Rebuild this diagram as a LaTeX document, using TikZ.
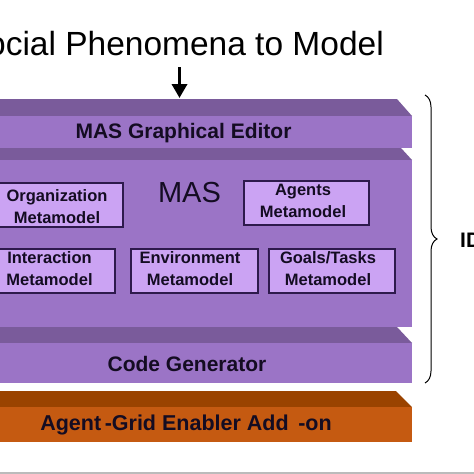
\documentclass[tikz,border=0pt]{standalone}
\usepackage{fontspec}
\setmainfont{Liberation Sans}
\usetikzlibrary{arrows.meta,decorations.pathreplacing}
\definecolor{slabtop}{HTML}{7A5B9B}
\definecolor{slabface}{HTML}{9B74C6}
\definecolor{boxfill}{HTML}{CBA3F3}
\definecolor{boxline}{HTML}{2E1A4C}
\definecolor{orgtop}{HTML}{9A4300}
\definecolor{orgface}{HTML}{C55A11}
\definecolor{inktext}{HTML}{140C22}
\definecolor{rulegray}{HTML}{BBBBBB}
\begin{document}
\begin{tikzpicture}[x=1pt,y=-1pt,
  mbox/.style={draw=boxline, line width=1.2pt, fill=boxfill, inner sep=0pt, minimum height=44pt},
  lbl/.style={font=\fontsize{16.5}{18}\selectfont\bfseries, text=inktext, anchor=base, inner sep=0pt},
  slablbl/.style={font=\fontsize{21}{24}\selectfont\bfseries, text=inktext, anchor=base, inner sep=0pt},
  toplayer/.style={fill=slabtop},
  facelayer/.style={fill=slabface}]
\useasboundingbox (0,0) rectangle (474,474);
\clip (0,0) rectangle (474,474);
\fill[white] (0,0) rectangle (474,474);
% title
\node[font=\fontsize{33.5}{38}\selectfont, anchor=base east, inner sep=0pt] (title) at (384,55) {Social Phenomena to Model};
\coordinate (arrowstart) at (179.5,67);
\coordinate (slabentry) at (179.5,98);
\draw[line width=3.5pt, -{Triangle[length=14pt,width=15pt]}] (arrowstart) -- (slabentry);
% slab 1
\fill[toplayer] (-5,99) -- (397,99) -- (412,116) -- (-5,116) -- cycle;
\fill[facelayer] (-5,116) rectangle (412,148);
% slab 2
\fill[toplayer] (-5,148) -- (401,148) -- (412,160) -- (-5,160) -- cycle;
\fill[facelayer] (-5,160) rectangle (412,327);
% slab 3
\fill[toplayer] (-5,327) -- (397,327) -- (412,343) -- (-5,343) -- cycle;
\fill[facelayer] (-5,343) rectangle (412,383);
% orange slab
\fill[orgtop] (-5,391) -- (396,391) -- (412,407) -- (-5,407) -- cycle;
\fill[orgface] (-5,407) rectangle (412,442);
% bottom rule
\fill[rulegray] (0,472) rectangle (474,474);
% slab labels
\node[slablbl] (editor) at (183.5,138) {MAS Graphical Editor};
\node[slablbl] (codegen) at (187,371) {Code Generator};
\node[slablbl, font=\fontsize{21.5}{24}\selectfont\bfseries] (agentgrid) at (186,430) {Agent\,-Grid Enabler Add\, -on};
\node[font=\fontsize{29}{32}\selectfont, text=inktext, anchor=base, inner sep=0pt] (mas) at (189.5,202) {MAS};
% metamodel boxes
\node[mbox, minimum width=131pt] (org) at (57.5,205) {};
\node[lbl] (orgA) at (57,201) {Organization};
\node[lbl] (orgB) at (57,223) {Metamodel};
\node[mbox, minimum width=125pt] (agents) at (306.5,203) {};
\node[lbl] (agentsA) at (303,195) {Agents};
\node[lbl] (agentsB) at (303,217) {Metamodel};
\node[mbox, minimum width=131pt] (inter) at (49.5,271) {};
\node[lbl] (interA) at (49.5,263) {Interaction};
\node[lbl] (interB) at (49.5,285) {Metamodel};
\node[mbox, minimum width=127pt] (env) at (194.5,271) {};
\node[lbl] (envA) at (190,263) {Environment};
\node[lbl] (envB) at (190,285) {Metamodel};
\node[mbox, minimum width=126pt] (goals) at (332,271) {};
\node[lbl] (goalsA) at (328,263) {Goals/Tasks};
\node[lbl] (goalsB) at (328,285) {Metamodel};
% brace
\coordinate (bracetop) at (425,95);
\coordinate (bracebot) at (425,383);
\draw[line width=1pt, decorate, decoration={brace, amplitude=12pt}] (bracetop) -- (bracebot);
\node[font=\fontsize{21}{24}\selectfont\bfseries, anchor=base west, inner sep=0pt] (ide) at (460,247) {IDE};
\end{tikzpicture}
\end{document}
